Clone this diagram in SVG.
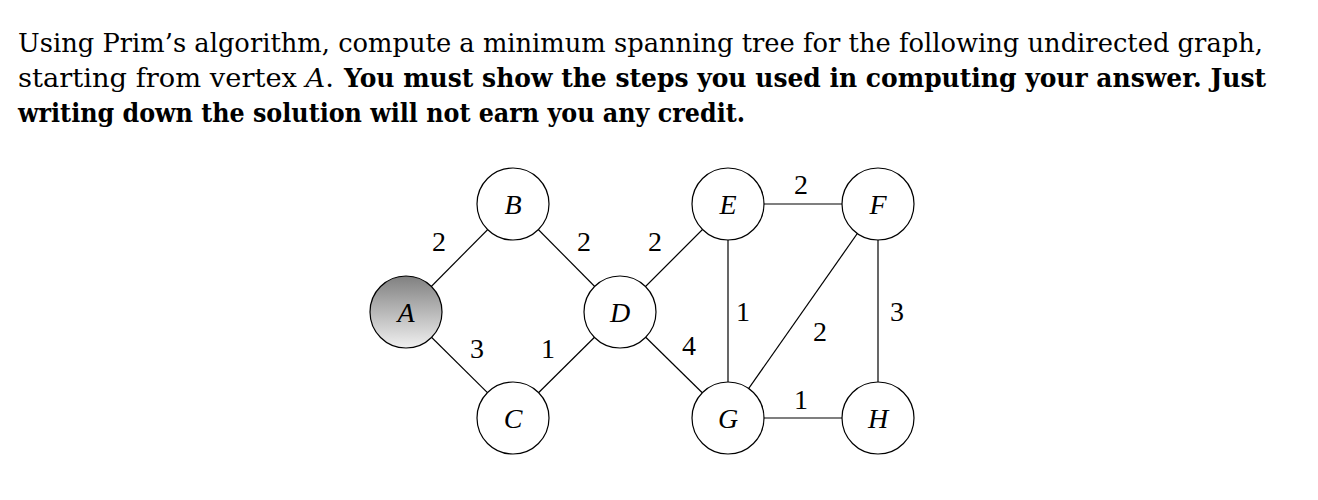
<svg xmlns="http://www.w3.org/2000/svg" width="1318" height="500" viewBox="0 0 1318 500">
<style>
.t{font-family:"DejaVu Serif","Liberation Serif",serif;font-size:26px;fill:#000}
.b{font-weight:bold}
.n{fill:#fff;stroke:#000;stroke-width:1.2}
.l{font-family:"Liberation Serif",serif;font-size:28px;font-style:italic;text-anchor:middle}
.w{font-family:"Liberation Serif",serif;font-size:28px;text-anchor:middle}
.e{stroke:#000;stroke-width:1.2}
</style>
<defs><linearGradient id="g" x1="0" y1="0" x2="0" y2="1"><stop offset="0" stop-color="#808080"/><stop offset="1" stop-color="#f0f0f0"/></linearGradient></defs>
<rect width="1318" height="500" fill="#fff"/>
<text class="t" x="18" y="52" textLength="1245" lengthAdjust="spacingAndGlyphs">Using Prim’s algorithm, compute a minimum spanning tree for the following undirected graph,</text>
<text class="t" x="18" y="87" textLength="316" lengthAdjust="spacingAndGlyphs">starting from vertex <tspan font-style="italic">A</tspan>.</text>
<text class="t b" x="344" y="87" textLength="922" lengthAdjust="spacingAndGlyphs">You must show the steps you used in computing your answer. Just</text>
<text class="t b" x="18" y="122" textLength="727" lengthAdjust="spacingAndGlyphs">writing down the solution will not earn you any credit.</text>
<g id="edges">
<line class="e" x1="406" y1="312" x2="513" y2="204"/>
<line class="e" x1="406" y1="312" x2="513" y2="418"/>
<line class="e" x1="513" y1="204" x2="620" y2="312"/>
<line class="e" x1="513" y1="418" x2="620" y2="312"/>
<line class="e" x1="620" y1="312" x2="728" y2="204"/>
<line class="e" x1="620" y1="312" x2="728" y2="418"/>
<line class="e" x1="728" y1="204" x2="728" y2="418"/>
<line class="e" x1="728" y1="204" x2="878" y2="204"/>
<line class="e" x1="728" y1="418" x2="878" y2="204"/>
<line class="e" x1="878" y1="204" x2="878" y2="418"/>
<line class="e" x1="728" y1="418" x2="878" y2="418"/>
<text class="w" x="439" y="251">2</text>
<text class="w" x="477" y="358">3</text>
<text class="w" x="584" y="251">2</text>
<text class="w" x="548" y="358">1</text>
<text class="w" x="655" y="251">2</text>
<text class="w" x="689" y="355">4</text>
<text class="w" x="743" y="321">1</text>
<text class="w" x="801" y="194">2</text>
<text class="w" x="820" y="341">2</text>
<text class="w" x="897" y="321">3</text>
<text class="w" x="801" y="409">1</text>
</g>
<g id="A"><circle cx="406" cy="312" r="36" fill="url(#g)" stroke="#000" stroke-width="1.2"/><text class="l" x="406" y="322">A</text></g>
<g id="B"><circle class="n" cx="513" cy="204" r="36"/><text class="l" x="513" y="214">B</text></g>
<g id="C"><circle class="n" cx="513" cy="418" r="36"/><text class="l" x="513" y="428">C</text></g>
<g id="D"><circle class="n" cx="620" cy="312" r="36"/><text class="l" x="620" y="322">D</text></g>
<g id="E"><circle class="n" cx="728" cy="204" r="36"/><text class="l" x="728" y="214">E</text></g>
<g id="F"><circle class="n" cx="878" cy="204" r="36"/><text class="l" x="878" y="214">F</text></g>
<g id="G"><circle class="n" cx="728" cy="418" r="36"/><text class="l" x="728" y="428">G</text></g>
<g id="H"><circle class="n" cx="878" cy="418" r="36"/><text class="l" x="878" y="428">H</text></g>
</svg>
